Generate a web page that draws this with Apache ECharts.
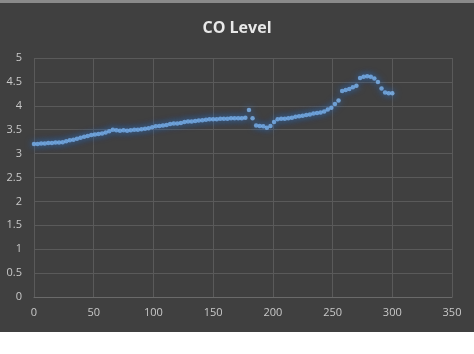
<!DOCTYPE html>
<html>
<head>
	<meta charset="utf-8">
	<title>CO Level</title>
	<script src="https://cdn.jsdelivr.net/npm/echarts@6/dist/echarts.min.js"></script>
	<style>
		html, body { margin: 0; padding: 0; background: #ffffff; }
		#chart { width: 474px; height: 332px; background: #404040; border-top: 3px solid #8a8a8a; box-sizing: border-box; }
	</style>
</head>
<body>
<div id="chart"></div>
<script>
	// sample positions (x) and CO readings (y)
	var xValues = [
		0, 3, 6, 9, 12, 15, 18, 21, 24, 27,
		30, 33, 36, 39, 42, 45, 48, 51, 54, 57,
		60, 63, 66, 69, 72, 75, 78, 81, 84, 87,
		90, 93, 96, 99, 102, 105, 108, 111, 114, 117,
		120, 123, 126, 129, 132, 135, 138, 141, 144, 147,
		150, 153, 156, 159, 162, 165, 168, 171, 174, 177,
		180, 183, 186, 189, 192, 195, 198, 201, 204, 207,
		210, 213, 216, 219, 222, 225, 228, 231, 234, 237,
		240, 243, 246, 249, 252, 255, 258, 261, 264, 267,
		270, 273, 276, 279, 282, 285, 288, 291, 294, 297,
		300
	];
	var coValues = [
		3.20, 3.20, 3.21, 3.21, 3.22, 3.22, 3.23, 3.23, 3.24, 3.26,
		3.28, 3.29, 3.31, 3.33, 3.35, 3.37, 3.39, 3.40, 3.41, 3.42,
		3.44, 3.47, 3.50, 3.49, 3.48, 3.49, 3.48, 3.49, 3.50, 3.50,
		3.51, 3.52, 3.53, 3.55, 3.57, 3.58, 3.59, 3.60, 3.62, 3.63,
		3.63, 3.64, 3.66, 3.67, 3.67, 3.68, 3.69, 3.70, 3.71, 3.72,
		3.72, 3.72, 3.73, 3.73, 3.73, 3.74, 3.74, 3.74, 3.74, 3.75,
		3.91, 3.74, 3.59, 3.58, 3.57, 3.54, 3.58, 3.66, 3.72, 3.73,
		3.73, 3.74, 3.75, 3.77, 3.78, 3.79, 3.81, 3.82, 3.84, 3.85,
		3.86, 3.88, 3.92, 3.96, 4.04, 4.11, 4.31, 4.33, 4.35, 4.39,
		4.42, 4.58, 4.61, 4.62, 4.61, 4.57, 4.50, 4.36, 4.28, 4.26,
		4.26
	];

	var points = [];
	for (var i = 0; i < xValues.length; i++) {
		points.push([xValues[i], coValues[i]]);
	}

	var myChart = echarts.init(document.getElementById('chart'));
	var option = {
		backgroundColor: 'transparent',
		title: {
			text: 'CO Level',
			left: 'center',
			top: 12,
			textStyle: {
				color: '#e8e8e8',
				fontFamily: 'Open Sans',
				fontWeight: 'bold',
				fontSize: 16
			}
		},
		grid: { left: 34, right: 22, top: 55, bottom: 35 },
		xAxis: {
			type: 'value',
			min: 0,
			max: 350,
			interval: 50,
			axisLine: { show: true, lineStyle: { color: '#6a6a6a' } },
			axisTick: { show: false },
			splitLine: { show: true, lineStyle: { color: '#5a5a5a' } },
			axisLabel: { color: '#c8c8c8', fontSize: 11, fontFamily: 'Open Sans', margin: 10 }
		},
		yAxis: {
			type: 'value',
			min: 0,
			max: 5,
			interval: 0.5,
			axisLine: { show: false },
			axisTick: { show: false },
			splitLine: { show: true, lineStyle: { color: '#5a5a5a' } },
			axisLabel: { color: '#c8c8c8', fontSize: 11, fontFamily: 'Open Sans', margin: 12 }
		},
		series: [{
			type: 'scatter',
			data: points,
			symbolSize: 4.5,
			itemStyle: {
				color: '#82b8ef',
				shadowColor: '#2f7ce0',
				shadowBlur: 7
			}
		}]
	};
	option && myChart.setOption(option);
</script>
</body>
</html>
